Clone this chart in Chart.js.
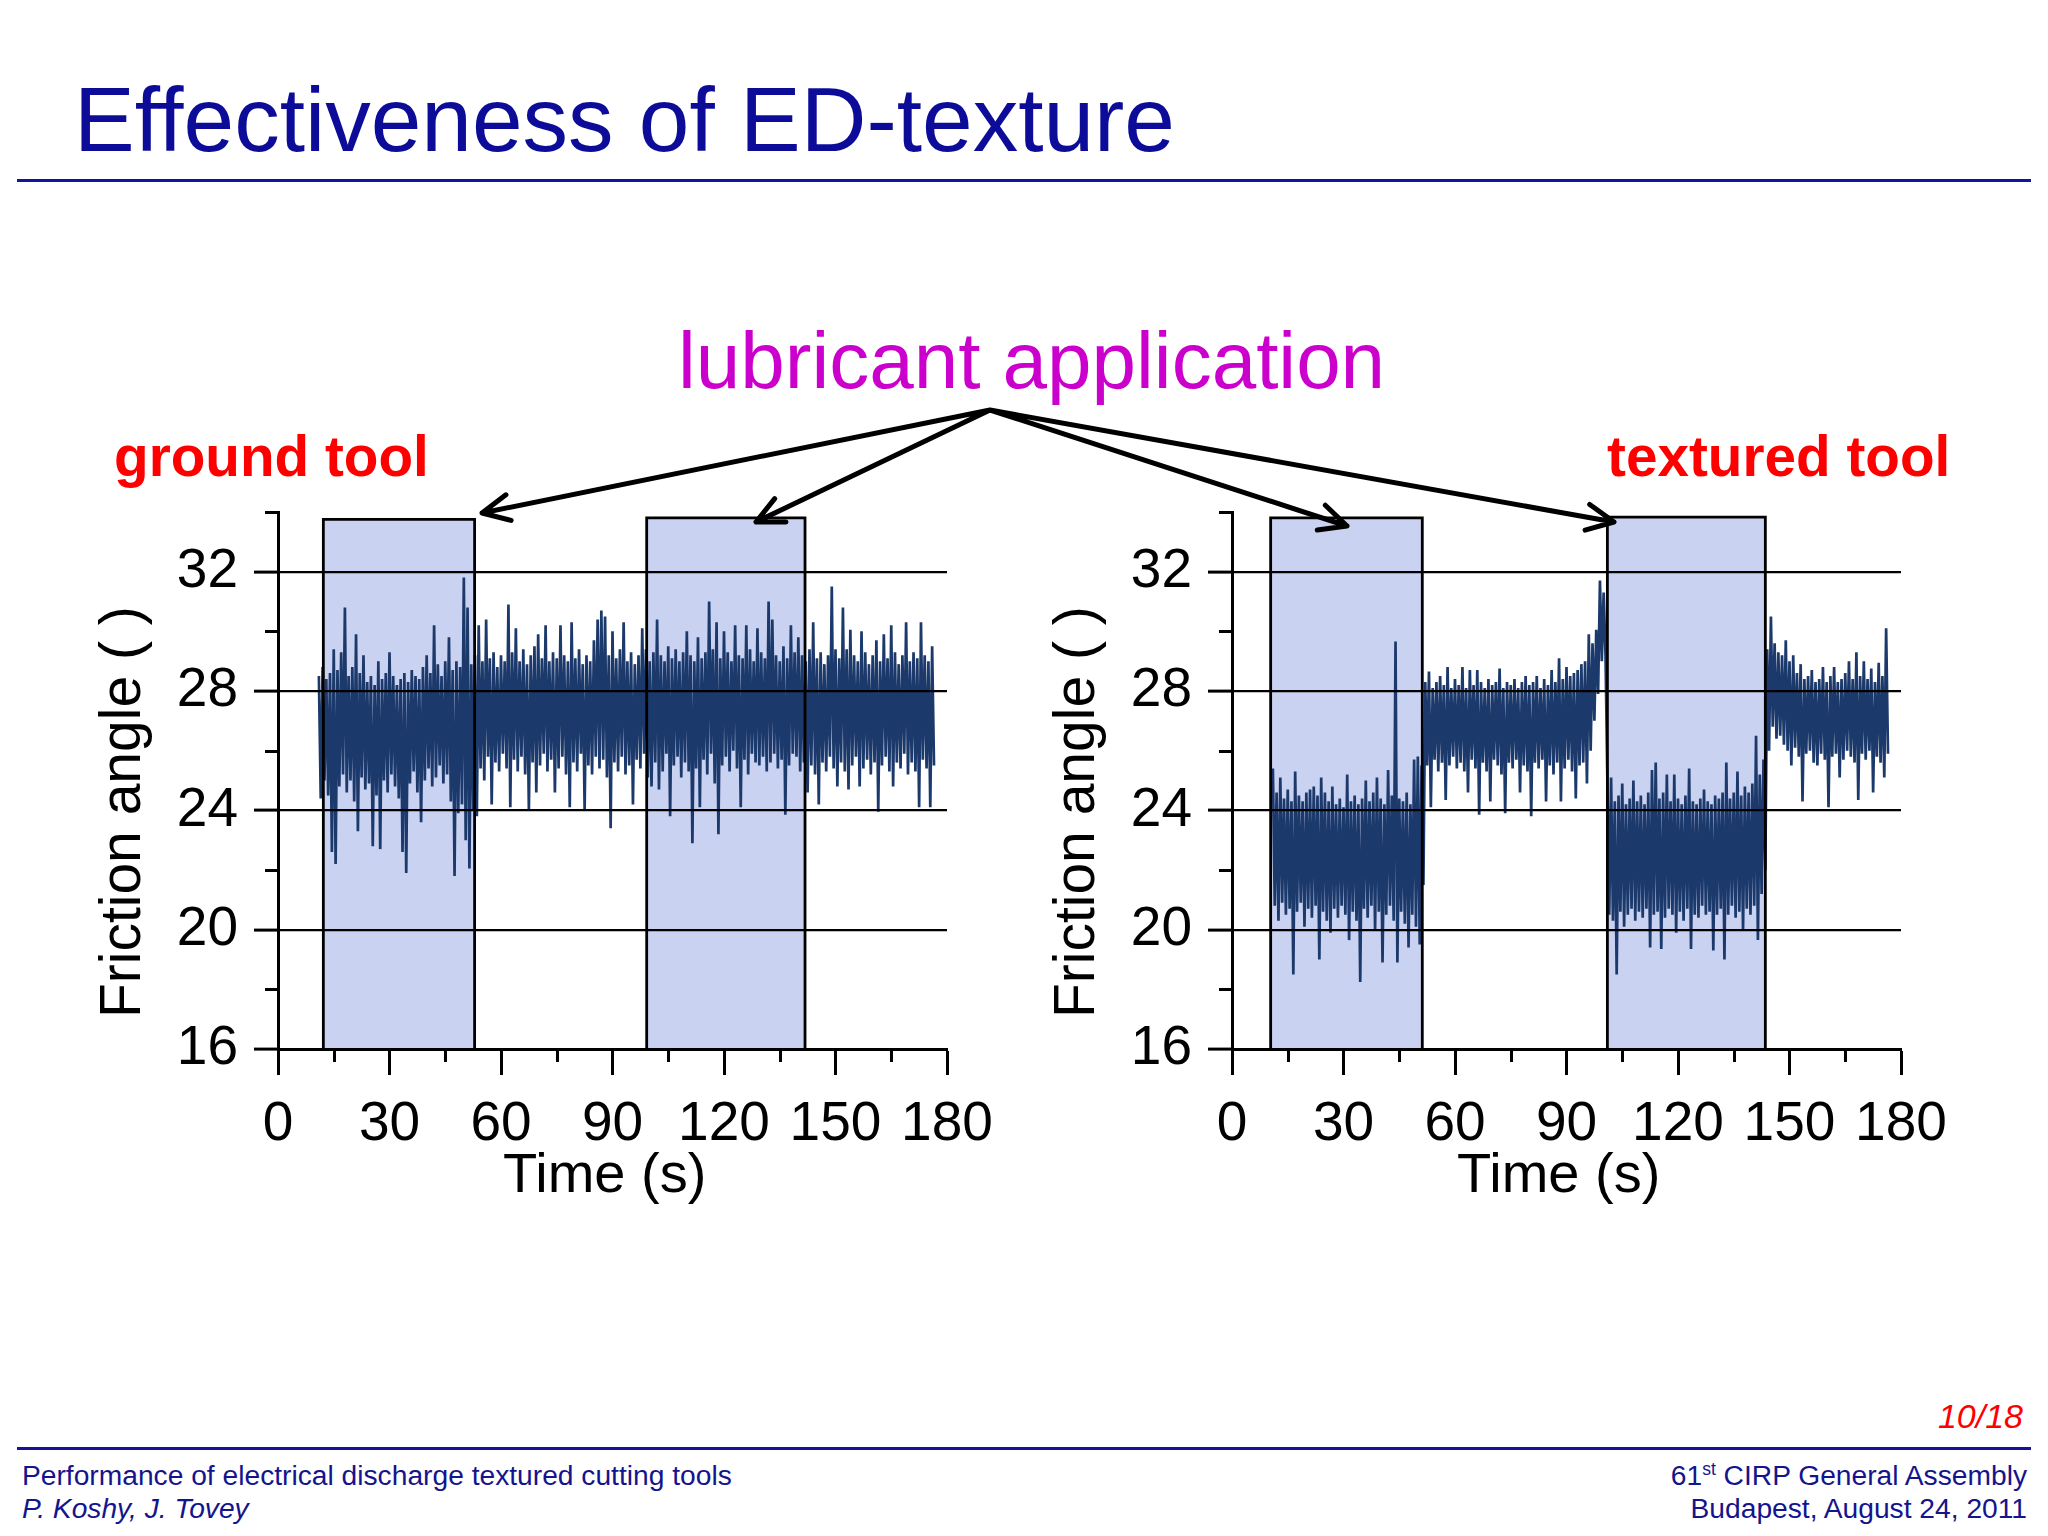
<!DOCTYPE html>
<html><head><meta charset="utf-8">
<script src="https://cdn.jsdelivr.net/npm/chart.js@4.4.1/dist/chart.umd.min.js"></script>
<style>
html,body{margin:0;padding:0;background:#fff;}
body{width:2048px;height:1536px;position:relative;overflow:hidden;font-family:'Liberation Sans',Arial,Helvetica,sans-serif;}
.t{position:absolute;white-space:nowrap;line-height:1;}
.rule{position:absolute;background:#14149a;}
canvas{position:absolute;}
</style></head><body>

<div class="t" style="left:74px;top:74px;font-size:91px;color:#0c0c98;">Effectiveness of ED-texture</div>
<div class="rule" style="left:17px;top:179px;width:2014px;height:3px;"></div>

<div class="t" style="left:678px;top:321px;font-size:80px;color:#cc00cc;">lubricant application</div>
<div class="t" style="left:114px;top:429px;font-size:56.7px;font-weight:bold;color:#ff0000;">ground tool</div>
<div class="t" style="left:1607px;top:429px;font-size:56.7px;font-weight:bold;color:#ff0000;">textured tool</div>

<canvas id="c1" width="1000" height="850" style="left:0px;top:400px;"></canvas>
<canvas id="c2" width="1000" height="850" style="left:954px;top:400px;"></canvas>

<svg id="arrows" width="2048" height="1536" style="position:absolute;left:0;top:0;z-index:5;"></svg>

<div class="t" style="right:25px;top:1399px;font-size:34px;font-style:italic;color:#ff0000;">10/18</div>
<div class="rule" style="left:17px;top:1447px;width:2014px;height:3px;"></div>
<div class="t" style="left:22px;top:1461px;font-size:28.2px;color:#14148c;">Performance of electrical discharge textured cutting tools</div>
<div class="t" style="left:22px;top:1494px;font-size:28.2px;font-style:italic;color:#14148c;">P. Koshy, J. Tovey</div>
<div class="t" style="right:21px;top:1461px;font-size:28.2px;color:#14148c;">61<sup style="font-size:0.62em;vertical-align:0.55em;line-height:0;">st</sup> CIRP General Assembly</div>
<div class="t" style="right:21px;top:1494px;font-size:28.2px;color:#14148c;">Budapest, August 24, 2011</div>

<script>
// ---------------- data ----------------
const START_S = 11;           // first sample second; one high and one low reading per second
const xTickValues = [0, 30, 60, 90, 120, 150, 180];
const xMinorTicks = [15, 45, 75, 105, 135, 165];
const yTickValues = [16, 20, 24, 28, 32];
const yMinorTicks = [18, 22, 26, 30, 34];
const Y_MIN = 16, Y_MAX = 34, X_MIN = 0, X_MAX = 180;

// ground tool: lubricant application windows (s) and box tops
const groundLubeStart = [12.2, 99.2];
const groundLubeEnd   = [52.9, 141.8];
const groundLubeTop   = [33.75, 33.8];
// textured tool
const texLubeStart = [10.4, 101.0];
const texLubeEnd   = [51.2, 143.5];
const texLubeTop   = [33.8, 33.83];

// friction angle, upper / lower excursion per second (t = 11 ... 176 s)
const groundHigh = [
 28.5,28.8,28.4,28.6,29.4,28.7,29.3,30.8,28.5,28.8,
 29.9,28.6,29.2,28.3,28.5,28.2,29.0,28.4,28.6,29.3,
 28.5,28.2,28.4,28.6,28.3,28.7,28.5,28.4,28.8,29.2,
 28.6,30.2,28.9,28.5,29.0,29.8,28.7,29.0,28.8,31.8,
 30.8,28.9,29.2,30.2,29.0,30.4,29.1,29.3,28.8,29.2,
 29.0,30.9,29.3,30.1,29.0,29.4,28.9,29.2,29.5,29.9,
 29.1,30.2,29.0,29.3,29.1,30.2,29.2,29.0,30.3,29.1,
 29.4,28.9,29.2,29.0,29.7,30.4,30.7,30.5,29.2,30.0,
 29.1,29.4,30.3,29.0,29.3,28.9,29.2,30.1,29.4,29.0,
 29.3,30.4,29.2,29.0,29.5,29.1,29.4,29.0,29.3,30.0,
 29.2,29.0,29.8,29.1,29.3,31.0,29.4,30.3,29.1,30.0,
 29.3,29.0,30.2,29.2,29.1,30.2,29.4,29.0,30.1,29.3,
 29.1,31.0,30.4,29.2,29.0,29.5,29.1,30.2,29.3,29.8,
 29.2,29.0,29.4,30.3,29.1,29.3,28.9,29.2,31.5,29.4,
 29.1,30.8,29.4,30.05,29.2,29.0,30.0,29.3,28.9,29.2,
 29.7,29.0,29.9,29.1,30.2,29.3,28.9,29.2,30.3,29.0,
 29.3,29.1,30.3,29.2,29.0,29.5
];
const groundLow = [
 24.4,25.0,24.5,22.6,22.2,24.8,25.2,24.6,25.0,24.3,
 23.3,25.1,24.7,24.9,22.8,24.5,22.7,25.0,24.6,25.2,
 24.8,24.4,22.6,21.9,24.9,25.3,24.6,23.6,25.0,25.4,
 24.8,25.1,25.5,24.9,25.2,24.3,21.8,23.9,24.2,23.0,
 22.05,24.0,23.8,25.4,25.0,25.8,24.2,25.6,25.3,25.9,
 25.4,24.1,25.7,25.3,25.8,25.2,24.0,25.6,24.6,25.5,
 25.9,25.3,25.7,24.6,25.4,25.8,25.2,24.1,25.6,25.3,
 25.9,24.0,25.5,25.2,25.8,25.4,25.7,25.1,23.4,25.6,
 25.3,25.8,25.2,25.5,24.2,25.7,25.4,25.9,25.1,24.8,
 25.6,24.7,25.3,25.9,23.8,25.5,25.8,25.1,25.6,25.3,
 22.9,25.4,24.1,25.7,25.2,25.9,24.9,23.2,25.5,25.8,
 25.3,26.0,25.4,24.1,25.7,25.2,25.9,25.6,25.5,25.8,
 25.3,25.6,25.9,25.4,25.7,23.85,25.5,25.9,25.8,25.3,
 25.6,24.6,25.5,25.2,24.2,25.6,25.3,25.8,25.4,24.8,
 25.6,25.3,24.7,25.5,25.8,24.8,25.4,25.7,25.2,25.6,
 23.95,25.5,25.8,25.3,24.8,25.6,25.4,25.9,25.2,25.6,
 25.3,24.1,25.7,25.4,24.1,25.5
];
const texturedHigh = [
 25.4,24.6,25.1,24.4,24.7,24.3,25.3,24.5,24.3,24.6,
 24.7,24.8,24.5,25.1,24.6,24.3,24.8,24.2,24.4,24.1,
 25.2,24.3,24.5,24.2,24.4,25.0,24.3,24.6,25.1,24.4,
 24.2,25.35,24.5,29.66,24.4,24.3,24.6,24.2,25.7,25.8,
 25.5,28.3,28.65,28.1,28.3,28.5,28.2,28.8,28.1,28.4,
 28.2,28.8,28.1,28.7,28.2,28.7,28.3,28.1,28.4,28.2,
 28.3,28.75,28.1,28.3,28.2,28.4,28.1,28.3,28.5,28.2,
 28.3,28.5,28.1,28.4,28.2,28.7,28.3,29.1,28.4,28.8,
 28.5,28.6,28.7,28.9,29.0,29.9,29.6,30.05,31.7,31.3,
 25.0,25.1,24.3,24.5,24.9,24.2,24.4,25.0,24.3,24.5,
 24.2,24.6,25.35,25.6,24.4,24.6,25.2,24.3,25.2,24.4,
 24.2,24.5,25.4,24.3,24.2,24.4,24.7,24.3,24.2,24.5,
 24.4,24.6,25.6,24.4,24.6,25.3,24.5,24.8,24.6,24.9,
 26.5,25.2,25.7,29.4,30.5,29.6,29.3,29.2,29.7,29.0,
 29.2,28.6,28.9,28.4,28.5,28.7,28.3,28.4,28.8,28.3,
 28.5,28.8,28.3,28.4,28.6,29.0,28.4,29.3,28.5,29.0,
 28.4,28.75,28.3,28.95,28.5,30.1
];
const texturedLow = [
 20.8,20.3,20.9,20.5,20.7,18.5,20.6,20.9,20.1,20.7,
 20.4,20.8,19.0,20.6,20.3,19.9,20.7,20.4,20.8,20.5,
 19.65,20.6,20.3,18.25,20.7,20.4,20.8,20.0,20.6,18.9,
 20.5,20.8,20.3,18.9,20.6,20.2,19.4,20.5,20.1,19.5,
 21.5,25.5,24.1,25.7,25.3,25.6,24.35,25.5,25.8,25.4,
 25.6,25.3,24.6,25.7,25.4,23.85,25.6,25.3,24.3,25.7,
 25.5,25.2,23.9,25.6,25.4,25.7,24.6,25.5,25.3,23.8,
 25.6,25.4,25.7,24.3,25.5,25.2,25.6,24.3,25.4,25.7,
 25.3,24.4,25.5,25.6,24.9,26.0,27.0,27.9,29.0,29.2,
 20.5,20.3,18.5,20.6,20.1,20.5,20.7,20.3,20.6,20.4,
 20.7,19.4,20.5,20.6,19.35,20.4,20.7,20.5,19.9,20.6,
 20.3,20.7,19.35,20.5,20.4,20.8,20.5,20.6,19.3,20.5,
 20.7,19.0,20.5,20.8,20.4,20.6,20.0,20.7,20.5,20.8,
 19.65,21.2,22.0,26.0,26.8,26.4,26.5,26.2,26.0,25.5,
 26.1,25.8,24.3,25.9,26.0,25.6,25.5,25.9,25.7,24.1,
 25.8,25.9,25.1,25.7,26.0,25.8,25.6,24.35,25.9,25.7,
 26.0,24.6,25.8,25.6,25.1,25.9
];

const X_TITLE = 'Time (s)';
const Y_TITLE = 'Friction angle ( )';

// ---------------- chart ----------------
const FONT = "'Liberation Sans', Arial, Helvetica, sans-serif";
Chart.defaults.font.family = FONT;

const minorTicks = {
  id: 'minorTicks',
  afterDraw(chart) {
    const {ctx, chartArea, scales: {x, y}} = chart;
    ctx.save();
    ctx.strokeStyle = '#000';
    ctx.lineWidth = 3;
    ctx.beginPath();
    xMinorTicks.forEach(v => {
      const px = Math.round(x.getPixelForValue(v)) + 0.5;
      ctx.moveTo(px, chartArea.bottom);
      ctx.lineTo(px, chartArea.bottom + 13);
    });
    yMinorTicks.forEach(v => {
      const py = Math.round(y.getPixelForValue(v)) + 0.5;
      ctx.moveTo(chartArea.left, py);
      ctx.lineTo(chartArea.left - 13, py);
    });
    ctx.stroke();
    ctx.restore();
  }
};

function makeChart(id, high, low, lubeStart, lubeEnd, lubeTop) {
  const signal = [];
  high.forEach((h, i) => {
    signal.push({x: START_S + i, y: h});
    signal.push({x: START_S + i + 0.5, y: low[i]});
  });
  const boxes = lubeStart.map((s, k) => [
    {x: s, y: Y_MIN}, {x: s, y: lubeTop[k]},
    {x: lubeEnd[k], y: lubeTop[k]}, {x: lubeEnd[k], y: Y_MIN}
  ]);
  const datasets = [];
  boxes.forEach(b => datasets.push({data: b, borderColor: '#000', borderWidth: 2.8, fill: false,
    pointRadius: 0, tension: 0, order: 0}));
  datasets.push({data: signal, borderColor: '#1c396b', borderWidth: 2.7, fill: false,
    pointRadius: 0, tension: 0, order: 1, borderJoinStyle: 'miter'});
  boxes.forEach(b => datasets.push({data: b, borderColor: 'rgba(0,0,0,0)', borderWidth: 0,
    backgroundColor: '#cad2f1', fill: 'start', pointRadius: 0, tension: 0, order: 2}));

  return new Chart(document.getElementById(id), {
    type: 'line',
    data: {datasets},
    plugins: [minorTicks],
    options: {
      responsive: false, animation: false, devicePixelRatio: 1, events: [],
      layout: {padding: {left: 0, right: 53, top: 112, bottom: 0}},
      plugins: {legend: {display: false}, tooltip: {enabled: false}},
      scales: {
        x: {
          type: 'linear', min: X_MIN, max: X_MAX,
          afterBuildTicks: s => { s.ticks = xTickValues.map(v => ({value: v})); },
          afterFit: s => { s.height = 201; s.paddingLeft = 0; s.paddingRight = 0; },
          grid: {drawOnChartArea: false, drawTicks: true, tickLength: 26, tickWidth: 3,
                 tickColor: '#000', color: '#000', z: 1},
          border: {display: true, color: '#000', width: 3, z: 1},
          ticks: {color: '#000', font: {size: 55}, padding: 17, maxRotation: 0, autoSkip: false, z: 1},
          title: {display: true, text: X_TITLE + ' ', color: '#000', font: {size: 56},
                  padding: {top: 0, bottom: 40}}
        },
        y: {
          type: 'linear', min: Y_MIN, max: Y_MAX,
          afterBuildTicks: s => { s.ticks = yTickValues.map(v => ({value: v})); },
          afterFit: s => { s.width = 278; },
          grid: {color: '#000', lineWidth: 2.2, tickLength: 24, tickWidth: 3, tickColor: '#000', z: 1},
          border: {display: true, color: '#000', width: 3, z: 1},
          ticks: {color: '#000', font: {size: 55}, padding: 16, z: 1},
          title: {display: true, text: Y_TITLE + '    ', color: '#000', font: {size: 57},
                  padding: {top: 90, bottom: 0}}
        }
      }
    }
  });
}

makeChart('c1', groundHigh, groundLow, groundLubeStart, groundLubeEnd, groundLubeTop);
makeChart('c2', texturedHigh, texturedLow, texLubeStart, texLubeEnd, texLubeTop);

// ---------------- annotation arrows ----------------
(function () {
  const svg = document.getElementById('arrows');
  const apex = [990, 410];
  const tips = [[482, 513], [756, 522], [1347, 526], [1614, 522]];
  const NS = 'http://www.w3.org/2000/svg';
  let d = '';
  tips.forEach(([tx, ty]) => {
    const dx = tx - apex[0], dy = ty - apex[1];
    const len = Math.hypot(dx, dy), ux = dx / len, uy = dy / len;
    const L = 30, a = 0.45;
    const w1 = [tx - L * (ux * Math.cos(a) - uy * Math.sin(a)), ty - L * (uy * Math.cos(a) + ux * Math.sin(a))];
    const w2 = [tx - L * (ux * Math.cos(-a) - uy * Math.sin(-a)), ty - L * (uy * Math.cos(-a) + ux * Math.sin(-a))];
    d += `M${apex[0]},${apex[1]}L${tx},${ty}M${w1[0].toFixed(1)},${w1[1].toFixed(1)}L${tx},${ty}L${w2[0].toFixed(1)},${w2[1].toFixed(1)}`;
  });
  const p = document.createElementNS(NS, 'path');
  p.setAttribute('d', d);
  p.setAttribute('stroke', '#000');
  p.setAttribute('stroke-width', '5');
  p.setAttribute('fill', 'none');
  p.setAttribute('stroke-linecap', 'round');
  p.setAttribute('stroke-linejoin', 'round');
  svg.appendChild(p);
})();
</script>
</body></html>
